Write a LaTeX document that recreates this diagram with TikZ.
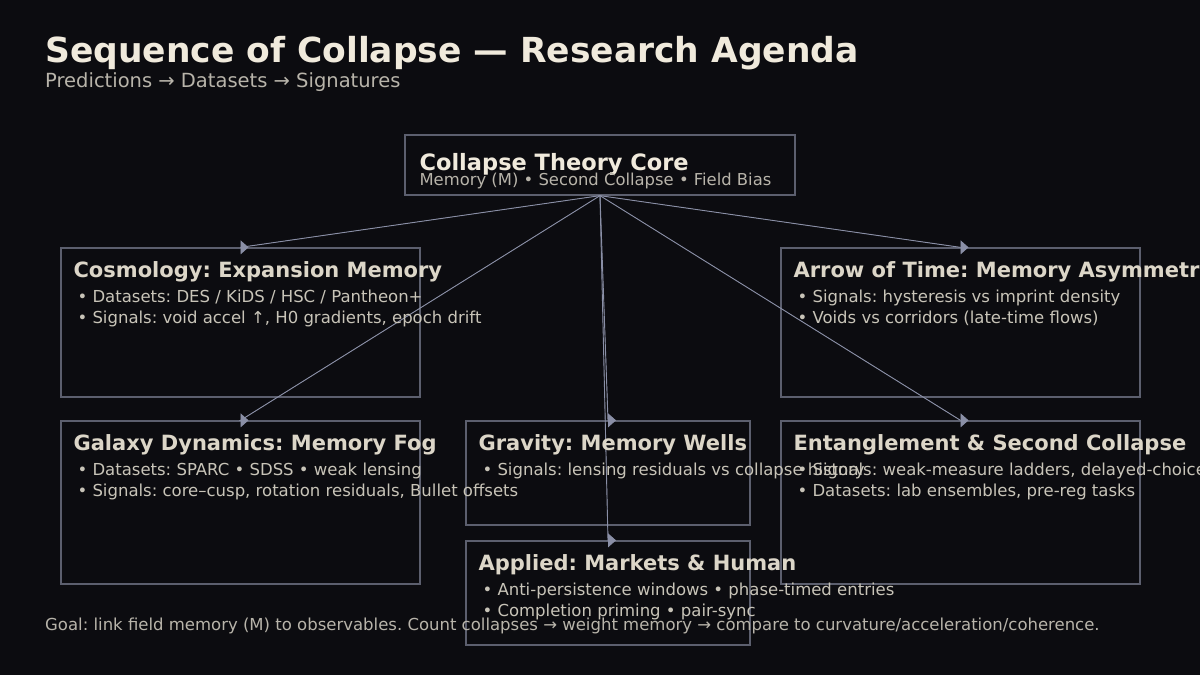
\documentclass[tikz,border=0pt]{standalone}
\usepackage{fontspec}
\setmainfont{DejaVu Sans}
\usetikzlibrary{arrows.meta,positioning}
\frenchspacing

\definecolor{bgcol}{HTML}{0C0C10}
\definecolor{framecol}{HTML}{5C5F6E}
\definecolor{linkcol}{HTML}{8A8FA6}
\definecolor{titlecol}{HTML}{F0EADC}
\definecolor{headcol}{HTML}{DCD6C8}
\definecolor{textcol}{HTML}{C8C4B8}
\definecolor{subcol}{HTML}{B8B4AA}

\tikzset{
    %Define standard arrow tip
    >={Triangle[length=8pt,width=14pt]},
    % Define arrow style
    pil/.style={
           ->,
           draw=linkcol,
           fill=linkcol,
           line width=0.9pt},
    % Define text styles
    head/.style={
           inner sep=0pt,
           text=headcol,
           font=\fontsize{21}{25}\selectfont\bfseries},
    item/.style={
           inner sep=0pt,
           text=textcol,
           font=\fontsize{16.5}{20}\selectfont}
}

\begin{document}
\begin{tikzpicture}[x=1pt, y=-1pt]
	\tikzstyle{card} = [rectangle, draw=framecol, line width=1.3pt, minimum width=359pt, minimum height=149pt, inner sep=0pt]
	\tikzstyle{tall} = [card, minimum height=163pt]
	\tikzstyle{small} = [card, minimum width=284pt, minimum height=104pt]

	\fill[bgcol] (0,0) rectangle (1200,675);
	\useasboundingbox (0,0) rectangle (1200,675);

	% Heading
	\node[inner sep=0pt, anchor=base west, text=titlecol, font=\fontsize{34.5}{40}\selectfont\bfseries](title) at (45,62){Sequence of Collapse — Research Agenda};
	\node[inner sep=0pt, below=25pt of title.base west, anchor=base west, text=subcol, font=\fontsize{19.5}{23}\selectfont](subtitle){Predictions → Datasets → Signatures};

	% Boxes
	\node[card, minimum width=390pt, minimum height=60pt](core) at (600,165){};
	\node[card](cosmo) at (240.5,322.5){};
	\node[card](arrowt) at (960.5,322.5){};
	\node[tall](galaxy) at (240.5,502.5){};
	\node[small](gravity) at (608,473){};
	\node[tall](entangle) at (960.5,502.5){};
	\node[small](applied) at (608,593){};

	% Links from the core
	\draw[pil] (core.south) -- (cosmo.north) -- ++(8,0);
	\draw[pil] (core.south) -- (arrowt.north) -- ++(8,0);
	\draw[pil] (core.south) -- (galaxy.north) -- ++(8,0);
	\draw[pil] (core.south) -- (gravity.north) -- ++(8,0);
	\draw[pil] (core.south) -- (applied.north) -- ++(8,0);
	\draw[pil] (core.south) -- (entangle.north) -- ++(8,0);

	% Core
	\node[head, below=36.5pt of core.north west, anchor=base west, xshift=15pt, text=titlecol, font=\fontsize{22.5}{26}\selectfont\bfseries](corehead){Collapse Theory Core};
	\node[item, below=15pt of corehead.base west, anchor=base west, text=subcol, font=\fontsize{16.4}{20}\selectfont](coresub){Memory (M) • Second Collapse • Field Bias};

	% Cosmology
	\node[head, below=30pt of cosmo.north west, anchor=base west, xshift=13pt](cosmohead){Cosmology: Expansion Memory};
	\node[item, below=25.5pt of cosmohead.base west, anchor=base west, xshift=4pt](cosmoa){• Datasets: DES / KiDS / HSC / Pantheon+};
	\node[item, below=21pt of cosmoa.base west, anchor=base west](cosmob){• Signals: void accel ↑, H0 gradients, epoch drift};

	% Arrow of time
	\node[head, below=30pt of arrowt.north west, anchor=base west, xshift=13pt](arrowthead){Arrow of Time: Memory Asymmetry};
	\node[item, below=25.5pt of arrowthead.base west, anchor=base west, xshift=4pt](arrowta){• Signals: hysteresis vs imprint density};
	\node[item, below=21pt of arrowta.base west, anchor=base west](arrowtb){• Voids vs corridors (late-time flows)};

	% Galaxy dynamics
	\node[head, below=30pt of galaxy.north west, anchor=base west, xshift=13pt](galaxyhead){Galaxy Dynamics: Memory Fog};
	\node[item, below=25.5pt of galaxyhead.base west, anchor=base west, xshift=4pt](galaxya){• Datasets: SPARC • SDSS • weak lensing};
	\node[item, below=21pt of galaxya.base west, anchor=base west](galaxyb){• Signals: core–cusp, rotation residuals, Bullet offsets};

	% Gravity
	\node[head, below=30pt of gravity.north west, anchor=base west, xshift=13pt](gravityhead){Gravity: Memory Wells};
	\node[item, below=25.5pt of gravityhead.base west, anchor=base west, xshift=4pt](gravitya){• Signals: lensing residuals vs collapse history};

	% Entanglement
	\node[head, below=30pt of entangle.north west, anchor=base west, xshift=13pt](entanglehead){Entanglement \& Second Collapse};
	\node[item, below=25.5pt of entanglehead.base west, anchor=base west, xshift=4pt](entanglea){• Signals: weak-measure ladders, delayed-choice};
	\node[item, below=21pt of entanglea.base west, anchor=base west](entangleb){• Datasets: lab ensembles, pre-reg tasks};

	% Applied
	\node[head, below=30pt of applied.north west, anchor=base west, xshift=13pt](appliedhead){Applied: Markets \& Human};
	\node[item, below=25.5pt of appliedhead.base west, anchor=base west, xshift=4pt](applieda){• Anti-persistence windows • phase-timed entries};
	\node[item, below=21pt of applieda.base west, anchor=base west](appliedb){• Completion priming • pair-sync};

	% Footer
	\node[item, anchor=base west, text=subcol](goal) at (45,630){Goal: link field memory (M) to observables. Count collapses → weight memory → compare to curvature/acceleration/coherence.};

\end{tikzpicture}
\end{document}
